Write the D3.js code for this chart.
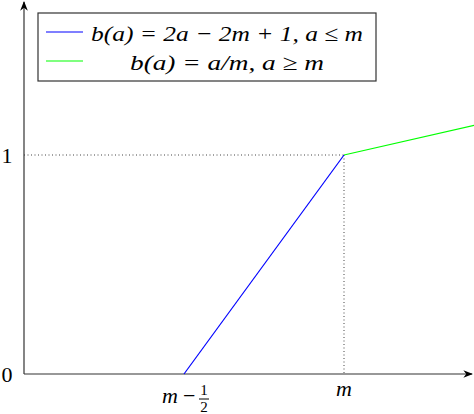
<!DOCTYPE html>
<html><head><meta charset="utf-8">
<script src="https://cdn.jsdelivr.net/npm/d3@7"></script>
<style>body{margin:0;background:#fff}text{font-family:"Liberation Serif",serif;font-size:22px}</style>
</head><body><svg id="c" width="474" height="414"></svg>
<script>
// a measured with m = 1
var blueLine = [[0.5, 0], [1, 1]];
var greenLine = [[1, 1], [1.41, 1.137]];
var yTicks = [0, 1];
var legendItems = [
  {color: "#0000ff", text: "b(a) = 2a − 2m + 1,  a ≤ m", len: 272},
  {color: "#00ff00", text: "b(a) = a/m,  a ≥ m", len: 194}
];

var svg = d3.select("#c");
var x = d3.scaleLinear().domain([0, 1]).range([24, 344]);
var y = d3.scaleLinear().domain([0, 1]).range([374, 155]);

svg.append("defs").append("marker").attr("id", "arr")
  .attr("viewBox", "0 -5 10 10").attr("refX", 9).attr("markerWidth", 8).attr("markerHeight", 8)
  .attr("orient", "auto").append("path").attr("d", "M0,-4L10,0L0,4L3,0Z").attr("fill", "#000");

// guides
svg.append("line").attr("x1", x(0)).attr("x2", x(1)).attr("y1", y(1)).attr("y2", y(1))
  .attr("stroke", "#444").attr("stroke-dasharray", "1,2.5");
svg.append("line").attr("x1", x(1)).attr("x2", x(1)).attr("y1", y(1)).attr("y2", y(0))
  .attr("stroke", "#444").attr("stroke-dasharray", "1,2.5");

// axes
svg.append("line").attr("x1", x(0)).attr("x2", 472).attr("y1", y(0)).attr("y2", y(0))
  .attr("stroke", "#333").attr("stroke-width", 1.2).attr("marker-end", "url(#arr)");
svg.append("line").attr("x1", x(0)).attr("x2", x(0)).attr("y1", y(0)).attr("y2", 2)
  .attr("stroke", "#333").attr("stroke-width", 1.2).attr("marker-end", "url(#arr)");

svg.selectAll(".yt").data(yTicks).enter().append("text")
  .attr("x", 7).attr("y", function(d){ return y(d) + 8; }).attr("text-anchor", "middle").text(function(d){ return d; });

var line = d3.line().x(function(d){ return x(d[0]); }).y(function(d){ return y(d[1]); });
svg.append("path").attr("d", line(blueLine)).attr("stroke", "#0000ff").attr("fill", "none").attr("stroke-width", 1.2);
svg.append("path").attr("d", line(greenLine)).attr("stroke", "#00ff00").attr("fill", "none").attr("stroke-width", 1.2);

// x tick labels
svg.append("text").attr("x", x(1)).attr("y", 396).attr("text-anchor", "middle").style("font-style", "italic").text("m");
var t = svg.append("g").attr("transform", "translate(" + x(0.5) + ",0)");
t.append("text").attr("x", -6).attr("y", 403).attr("text-anchor", "end").style("font-style", "italic").text("m");
t.append("text").attr("x", -1).attr("y", 403).attr("text-anchor", "start").text("−");
t.append("text").attr("x", 20).attr("y", 395).attr("text-anchor", "middle").style("font-size", "15px").text("1");
t.append("line").attr("x1", 15).attr("x2", 25).attr("y1", 399).attr("y2", 399).attr("stroke", "#000");
t.append("text").attr("x", 20).attr("y", 412).attr("text-anchor", "middle").style("font-size", "15px").text("2");

// legend
svg.append("rect").attr("x", 38).attr("y", 13).attr("width", 338).attr("height", 68)
  .attr("fill", "#fff").attr("stroke", "#333").attr("stroke-width", 1.2);
var lg = svg.selectAll(".lg").data(legendItems).enter().append("g")
  .attr("transform", function(d, i){ return "translate(0," + (34 + i * 29) + ")"; });
lg.append("line").attr("x1", 46).attr("x2", 83).attr("y1", -2).attr("y2", -2)
  .attr("stroke", function(d){ return d.color; }).attr("stroke-width", 1.2);
lg.append("text").attr("x", 227).attr("y", 7).attr("text-anchor", "middle")
  .attr("textLength", function(d){ return d.len; }).attr("lengthAdjust", "spacingAndGlyphs")
  .style("font-style", "italic").text(function(d){ return d.text; });
</script></body></html>
